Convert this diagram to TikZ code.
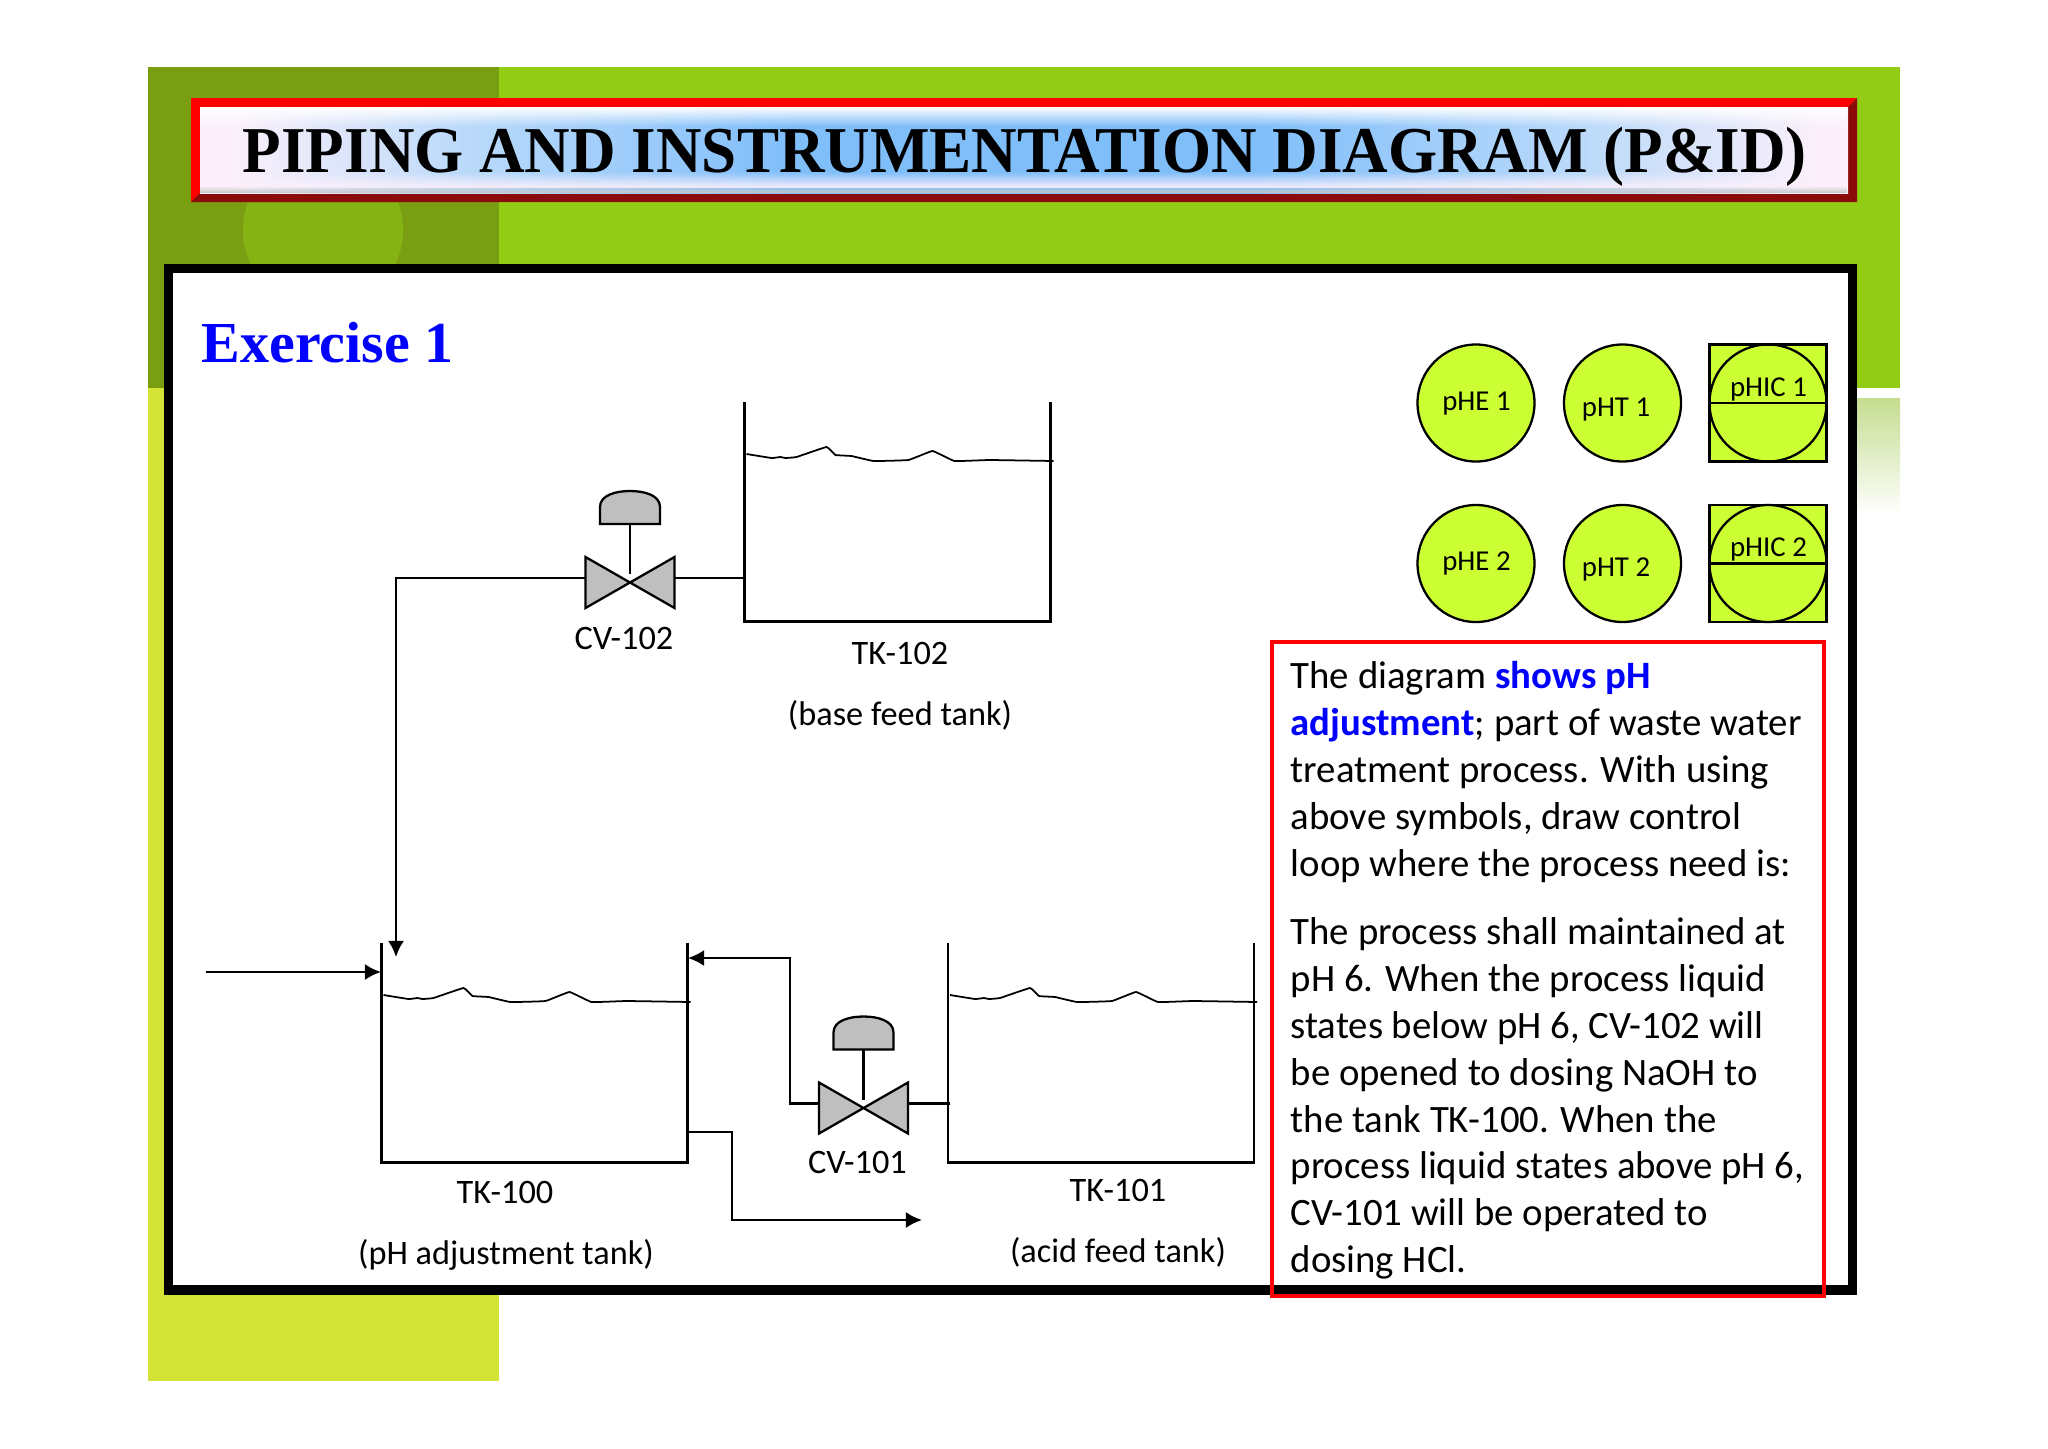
\documentclass[tikz,border=0pt]{standalone}
\usepackage{fontspec}
\setmainfont{Carlito}
\newfontfamily\titlefont{Liberation Serif}
\usetikzlibrary{arrows.meta,positioning,fadings}
\definecolor{topgreen}{HTML}{92CC15}
\definecolor{darkgreen}{HTML}{7A9E12}
\definecolor{spotgreen}{HTML}{86B314}
\definecolor{lowgreen}{HTML}{D4E436}
\definecolor{fadegreen}{HTML}{C5DD8F}
\definecolor{symgreen}{HTML}{CCFF33}
\definecolor{edgepink}{HTML}{FBF0FB}
\definecolor{paleblue}{HTML}{BBDAFA}
\definecolor{midblue}{HTML}{80BEFA}
\definecolor{darkred}{HTML}{8B0A0A}
\definecolor{valvegray}{HTML}{BFBFBF}
\pgfdeclarehorizontalshading{titlebar}{100bp}{color(0bp)=(edgepink); color(26bp)=(edgepink); color(33bp)=(paleblue); color(43bp)=(midblue); color(57bp)=(midblue); color(67bp)=(paleblue); color(74bp)=(edgepink); color(100bp)=(edgepink)}
\tikzset{font=\fontsize{9.75}{11}\selectfont}
\tikzset{lbl/.style={anchor=base,inner sep=0pt}}
\tikzset{pipe/.style={line width=.65pt}}
\tikzset{symlbl/.style={lbl,font=\fontsize{8.2}{9}\selectfont}}

\begin{document}
\begin{tikzpicture}[x=.01cm,y=-.01cm,>={Latex[length=4.6pt,width=4.6pt]}]
  \useasboundingbox (0,0) rectangle (2048,1448);
  \fill[white] (0,0) rectangle (2048,1448);
  \fill[topgreen] (148,67) rectangle (1900,388);
  \fill[darkgreen] (148,67) rectangle (499,388);
  \fill[spotgreen] (323,230) circle (80);
  \fill[lowgreen] (148,388) rectangle (499,1381);
  \shade[top color=fadegreen,bottom color=white] (1853,398) rectangle (1900,515);
  % title bar
  \fill[red] (191,98)--(1857,98)--(1848,107)--(200,107)--(200,193)--(191,202)--cycle;
  \fill[darkred] (1857,98)--(1857,202)--(191,202)--(200,193)--(1848,193)--(1848,107)--cycle;
  \shade[shading=titlebar] (200,107) rectangle (1848,193);
  \fill[white,path fading=south] (200,107) rectangle (1848,126);
  \fill[edgepink,path fading=north] (200,172) rectangle (1848,188);
  \fill[gray!45!white,path fading=north] (200,186) rectangle (1848,193);
  \node[lbl,font=\titlefont\fontsize{18.6}{20}\selectfont\bfseries] (title) at (1025,172) {\scalebox{.9645}[1]{PIPING AND INSTRUMENTATION DIAGRAM (P\&ID)}};
  % frame
  \draw[line width=2.6pt,fill=white] (168.5,268.5) rectangle (1852.5,1290);
  \node[lbl,anchor=base west,text=blue,font=\titlefont\fontsize{16.5}{18}\selectfont\bfseries] (exercise) at (201,362) {Exercise 1};

  % tanks
  \foreach \tk/\tx/\ty in {tka/744.5/402, tkb/381.5/943, tkc/948/943}{
    \begin{scope}[shift={(\tx,\ty)}]
      \draw[pipe] (0,0)--(0,219.5)--(306,219.5)--(306,0);
      \draw[line width=.5pt] plot[smooth,tension=.15] coordinates {(2,52) (27,56) (36,55) (41,56) (52,55) (82,45) (91,53) (107,54) (129,59) (164,58) (188,49) (210,59) (245,58) (309,59)};
      \coordinate (\tk nw) at (0,0);
      \coordinate (\tk ne) at (306,0);
    \end{scope}
  }
  % valves
  \foreach \cv/\vx/\vy in {cva/630/583, cvb/863.5/1108.5}{
    \begin{scope}[shift={(\vx,\vy)}]
      \draw[pipe,fill=valvegray] (-44.5,-26)--(44.5,25)--(44.5,-26)--(-44.5,25)--cycle;
      \draw[pipe] (0,-59)--(0,-9);
      \draw[pipe,fill=valvegray] (-30,-59)--(-30,-76) .. controls (-30,-88) and (-14,-92) .. (0,-92) .. controls (14,-92) and (30,-88) .. (30,-76)--(30,-59)--cycle;
      \coordinate (\cv w) at (-44.5,-5);
      \coordinate (\cv e) at (44.5,-5);
    \end{scope}
  }
  % piping
  \coordinate (feed) at (206,972);
  \coordinate (feedend) at (381,972);
  \coordinate (basetip) at (396,957);
  \coordinate (acidtip) at (688,958);
  \coordinate (outstart) at (688,1132);
  \coordinate (outend) at (922,1220);
  \coordinate (tkain) at (746,578);
  \coordinate (tkcout) at (950,1103.5);
  \draw[pipe,->] (feed)--(feedend);
  \draw[pipe] (tkain)--(cvae);
  \draw[pipe,->] (cvaw)-|(basetip);
  \draw[pipe] (tkcout)--(cvbe);
  \draw[pipe,->] (cvbw)--(790,1103.5)--(790,958)--(acidtip);
  \draw[pipe,->] (outstart)--(732,1132)--(732,1220)--(outend);

  \node[lbl] (tk102) at (900,664) {TK-102};
  \node[lbl] (tk102b) at (900,725) {(base feed tank)};
  \node[lbl] (tk100) at (505,1203) {TK-100};
  \node[lbl] (tk100b) at (506,1264) {(pH adjustment tank)};
  \node[lbl] (tk101) at (1118,1201) {TK-101};
  \node[lbl] (tk101b) at (1118,1262) {(acid feed tank)};
  \node[lbl] (cv102) at (624,649) {CV-102};
  \node[lbl] (cv101) at (857.5,1173) {CV-101};

  % symbols
  \foreach \n/\sy in {1/403, 2/563.5}{
    \node[draw,circle,pipe,fill=symgreen,minimum size=117*.01cm,inner sep=0pt] (phe\n) at (1476,\sy) {};
    \node[draw,circle,pipe,fill=symgreen,minimum size=117*.01cm,inner sep=0pt] (pht\n) at (1622.5,\sy) {};
    \node[draw,rectangle,pipe,fill=symgreen,minimum size=117*.01cm,inner sep=0pt] (phicbox\n) at (1768,\sy) {};
    \node[draw,circle,pipe,minimum size=117*.01cm,inner sep=0pt] (phic\n) at (1768,\sy) {};
    \draw[pipe] (phic\n.west)--(phic\n.east);
    \node[symlbl] at (1476.5,\sy+7) (phelbl\n) {pHE \n};
    \node[symlbl] at (1616,\sy+13) (phtlbl\n) {pHT \n};
    \node[symlbl] at (1768.5,\sy-7) (phiclbl\n) {pHIC \n};
  };

  % text box
  \draw[red,line width=1.2pt] (1272,642) rectangle (1824,1296);
  \node[anchor=north west,inner sep=0pt,align=left,font=\fontsize{11.03}{13.3}\selectfont] (desc) at (1290,661) {%
    The diagram \textcolor{blue}{\textbf{shows pH}}\\
    \textcolor{blue}{\textbf{adjustment}}; part of waste water\\
    treatment process. With using\\
    above symbols, draw control\\
    loop where the process need is:\\[6.3pt]
    The process shall maintained at\\
    pH 6. When the process liquid\\
    states below pH 6, CV-102 will\\
    be opened to dosing NaOH to\\
    the tank TK-100. When the\\
    process liquid states above pH 6,\\
    CV-101 will be operated to\\
    dosing HCl.};
\end{tikzpicture}
\end{document}
